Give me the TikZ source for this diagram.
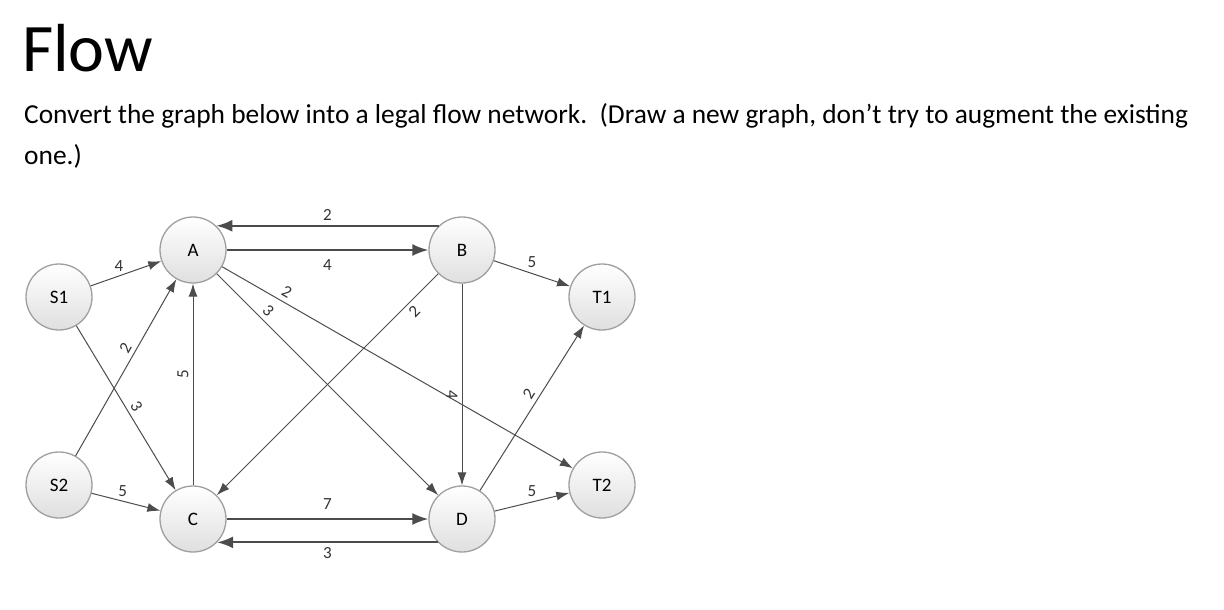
\documentclass[tikz,border=0pt]{standalone}
\usepackage{fontspec}
\setmainfont{Carlito}
\usetikzlibrary{arrows.meta}
\begin{document}
\begin{tikzpicture}[x=1pt,y=-1pt,
  v/.style={circle,minimum size=66pt,inner sep=0pt,draw=gray!75,line width=1.3pt,top color=white,bottom color=gray!25,shading=axis,font=\fontsize{19}{19}\selectfont},
  e/.style={draw=black!70,line width=1pt,-{Latex[length=13pt,width=9pt]}},
  ee/.style={draw=black!70,line width=2pt,-{Latex[length=16pt,width=12pt]}},
  l/.style={font=\fontsize{17}{17}\selectfont,text=black!80,inner sep=1pt}]
\useasboundingbox (0,0) rectangle (1224,610);
\node[anchor=base west,inner sep=0pt,font=\fontsize{68}{68}\selectfont] (title) at (22,72) {Flow};
\node[anchor=base west,inner sep=0pt,font=\fontsize{27.4}{27.4}\selectfont] (t1) at (24,124) {Convert the graph below into a legal flow network.\ \ (Draw a new graph, don’t try to augment the existing};
\node[anchor=base west,inner sep=0pt,font=\fontsize{27.4}{27.4}\selectfont] (t2) at (24,164) {one.)};
\node[v] (S1) at (59,297) {S1};
\node[v] (S2) at (59,485) {S2};
\node[v] (A) at (193,250) {A};
\node[v] (B) at (462,250) {B};
\node[v] (C) at (193,519) {C};
\node[v] (D) at (462,519) {D};
\node[v] (T1) at (602,297) {T1};
\node[v] (T2) at (602,485) {T2};
\draw[e] (S1) -- (A) node[l,pos=0.4,above=3pt] {4};
\draw[e] (S1) -- (C) node[l,pos=0.52,sloped,above=3pt] {3};
\draw[e] (S2) -- (A) node[l,pos=0.58,sloped,above=3pt] {2};
\draw[e] (S2) -- (C) node[l,pos=0.45,above=3pt] {5};
\draw[ee] (A.0) -- (B.180) node[l,pos=0.5,below=8pt] {4};
\draw[ee] (B.134) -- (A.46) node[l,pos=0.5,above=3pt] {2};
\draw[ee] (C.0) -- (D.180) node[l,pos=0.5,above=8pt] {7};
\draw[ee] (D.224) -- (C.-44) node[l,pos=0.5,below=3pt] {3};
\draw[e] (C) -- (A) node[l,pos=0.55,sloped,above=3pt] {5};
\draw[e] (A) -- (D) node[l,pos=0.2,sloped,above=3pt] {3};
\draw[e] (A) -- (T2) node[l,pos=0.17,sloped,above=3pt] {2};
\draw[e] (B) -- (C) node[l,pos=0.14,sloped,below=3pt] {2};
\draw[e] (B) -- (D) node[l,pos=0.55,sloped,below=3pt] {4};
\draw[e] (B) -- (T1) node[l,pos=0.5,above=4pt] {5};
\draw[e] (D) -- (T1) node[l,pos=0.55,sloped,above=3pt] {2};
\draw[e] (D) -- (T2) node[l,pos=0.5,above=4pt] {5};
\end{tikzpicture}
\end{document}
